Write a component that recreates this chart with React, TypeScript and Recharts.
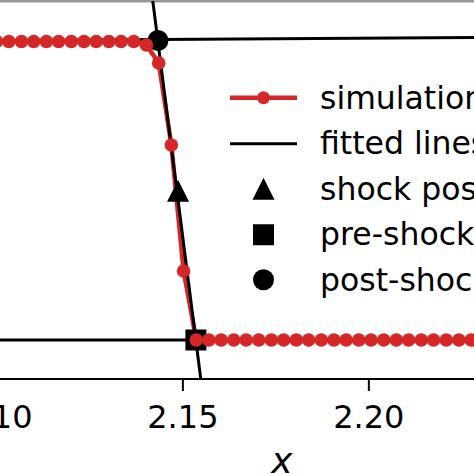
import { ComposedChart, Line, Scatter, XAxis, YAxis, ReferenceLine, Legend } from 'recharts';

// simulation samples
const simX = [
  2.0865, 2.0898, 2.0932, 2.0966, 2.0999, 2.1032, 2.1066, 2.1099, 2.1133, 2.1166,
  2.1200, 2.1234, 2.1267, 2.1301, 2.1334, 2.1368, 2.1402, 2.1435, 2.1469, 2.1502,
  2.1536, 2.1570, 2.1603, 2.1637, 2.1670, 2.1704, 2.1738, 2.1771, 2.1805, 2.1838,
  2.1872, 2.1906, 2.1939, 2.1973, 2.2006, 2.2040, 2.2074, 2.2107, 2.2141, 2.2174,
  2.2208, 2.2242, 2.2275, 2.2309, 2.2342, 2.2376,
];
const simY = [
  4.0, 4.0, 4.0, 4.0, 4.0, 4.0, 4.0, 4.0, 4.0, 4.0,
  4.0, 4.0, 4.0, 4.0, 4.0, 4.0, 3.965, 3.784, 2.96, 1.693,
  1.0, 1.0, 1.0, 1.0, 1.0, 1.0, 1.0, 1.0, 1.0, 1.0,
  1.0, 1.0, 1.0, 1.0, 1.0, 1.0, 1.0, 1.0, 1.0, 1.0,
  1.0, 1.0, 1.0, 1.0, 1.0, 1.0,
];

// fitted lines: upper level, lower level, shock slope
const upperFitX = [2.0847, 2.2686];
const upperFitY = [4.006, 4.05];
const lowerFitX = [2.0847, 2.2686];
const lowerFitY = [1.0, 1.0];
const slopeFitX = [2.1419, 2.1548];
const slopeFitY = [4.41, 0.61];

// markers
const shockPos = { x: 2.1487, y: 2.5 };
const preShock = { x: 2.1535, y: 1.0 };
const postShock = { x: 2.1433, y: 4.01 };

const xTicks = [2.1, 2.15, 2.2];
const X_DOMAIN: [number, number] = [2.0847, 2.2686];
const Y_DOMAIN: [number, number] = [0.608, 4.407];

const RED = '#d62728';
const FONT = 'DejaVu Sans';

const toPts = (xs: number[], ys: number[]) => xs.map((x, i) => ({ x, y: ys[i] }));
const simData = toPts(simX, simY);

const markerEl = (kind: string, cx: number, cy: number) => {
  if (kind === 'tri')
    return <path d={`M${cx},${cy - 11}L${cx + 11},${cy + 11}L${cx - 11},${cy + 11}Z`} fill="#000" />;
  if (kind === 'sq') return <rect x={cx - 10.5} y={cy - 10.5} width={21} height={21} fill="#000" />;
  return <circle cx={cx} cy={cy} r={10.5} fill="#000" />;
};

const legendItems = [
  { name: 'simulation', kind: 'sim' },
  { name: 'fitted lines', kind: 'fit' },
  { name: 'shock position', kind: 'tri' },
  { name: 'pre-shock state', kind: 'sq' },
  { name: 'post-shock state', kind: 'circ' },
];

const renderLegend = () => (
  <div style={{ fontFamily: FONT, fontSize: 31.5, color: '#000' }}>
    {legendItems.map((it) => (
      <div key={it.name} style={{ display: 'flex', alignItems: 'center', height: 45.5, whiteSpace: 'nowrap' }}>
        <svg width={67} height={45.5} style={{ flex: 'none' }}>
          {it.kind === 'sim' && (
            <g>
              <line x1={0} x2={67} y1={22.75} y2={22.75} stroke={RED} strokeWidth={4.5} />
              <circle cx={33.5} cy={22.75} r={6.5} fill={RED} />
            </g>
          )}
          {it.kind === 'fit' && <line x1={0} x2={67} y1={22.75} y2={22.75} stroke="#000" strokeWidth={3} />}
          {(it.kind === 'tri' || it.kind === 'sq' || it.kind === 'circ') && markerEl(it.kind, 33.5, 22.75)}
        </svg>
        <span style={{ marginLeft: 23 }}>{it.name}</span>
      </div>
    ))}
  </div>
);

export default function App() {
  return (
    <div style={{ position: 'absolute', left: 0, top: 0, width: 474, height: 474, overflow: 'hidden', background: '#fff' }}>
      <div style={{ position: 'absolute', left: -60, top: 0 }}>
        <ComposedChart width={684} height={474} margin={{ top: 1, right: 0, left: 0, bottom: 0 }}>
          <XAxis
            dataKey="x"
            type="number"
            domain={X_DOMAIN}
            allowDataOverflow
            ticks={xTicks}
            interval={0}
            tickFormatter={(v: number) => v.toFixed(2)}
            height={95}
            tickSize={12}
            tickMargin={14}
            tick={{ fontSize: 32, fill: '#000', fontFamily: FONT }}
            tickLine={{ stroke: '#000', strokeWidth: 2 }}
            axisLine={{ stroke: '#000', strokeWidth: 2 }}
            label={{
              value: 'x',
              position: 'insideBottom',
              offset: 1,
              style: { fontSize: 36, fill: '#000', fontFamily: FONT, fontStyle: 'italic' },
            }}
          />
          <YAxis dataKey="y" type="number" domain={Y_DOMAIN} allowDataOverflow hide />
          <ReferenceLine y={Y_DOMAIN[1]} stroke="#999" strokeWidth={3} />
          <Line
            data={simData}
            dataKey="y"
            stroke={RED}
            strokeWidth={4.5}
            dot={{ r: 6.8, fill: RED, stroke: RED, strokeWidth: 0 }}
            isAnimationActive={false}
          />
          <Line data={toPts(upperFitX, upperFitY)} dataKey="y" stroke="#000" strokeWidth={3} dot={false} isAnimationActive={false} />
          <Line data={toPts(lowerFitX, lowerFitY)} dataKey="y" stroke="#000" strokeWidth={3} dot={false} isAnimationActive={false} />
          <Line data={toPts(slopeFitX, slopeFitY)} dataKey="y" stroke="#000" strokeWidth={3} dot={false} isAnimationActive={false} />
          <Scatter data={[shockPos]} dataKey="y" shape={(p: any) => markerEl('tri', p.cx, p.cy)} isAnimationActive={false} />
          <Scatter data={[preShock]} dataKey="y" shape={(p: any) => markerEl('sq', p.cx, p.cy)} isAnimationActive={false} />
          <Scatter data={[postShock]} dataKey="y" shape={(p: any) => markerEl('circ', p.cx, p.cy)} isAnimationActive={false} />
          <Legend
            layout="horizontal"
            align="center"
            verticalAlign="middle"
            content={renderLegend}
            wrapperStyle={{ left: 290, top: 75, width: 400, height: 'auto', bottom: 'auto' }}
          />
        </ComposedChart>
      </div>
    </div>
  );
}
